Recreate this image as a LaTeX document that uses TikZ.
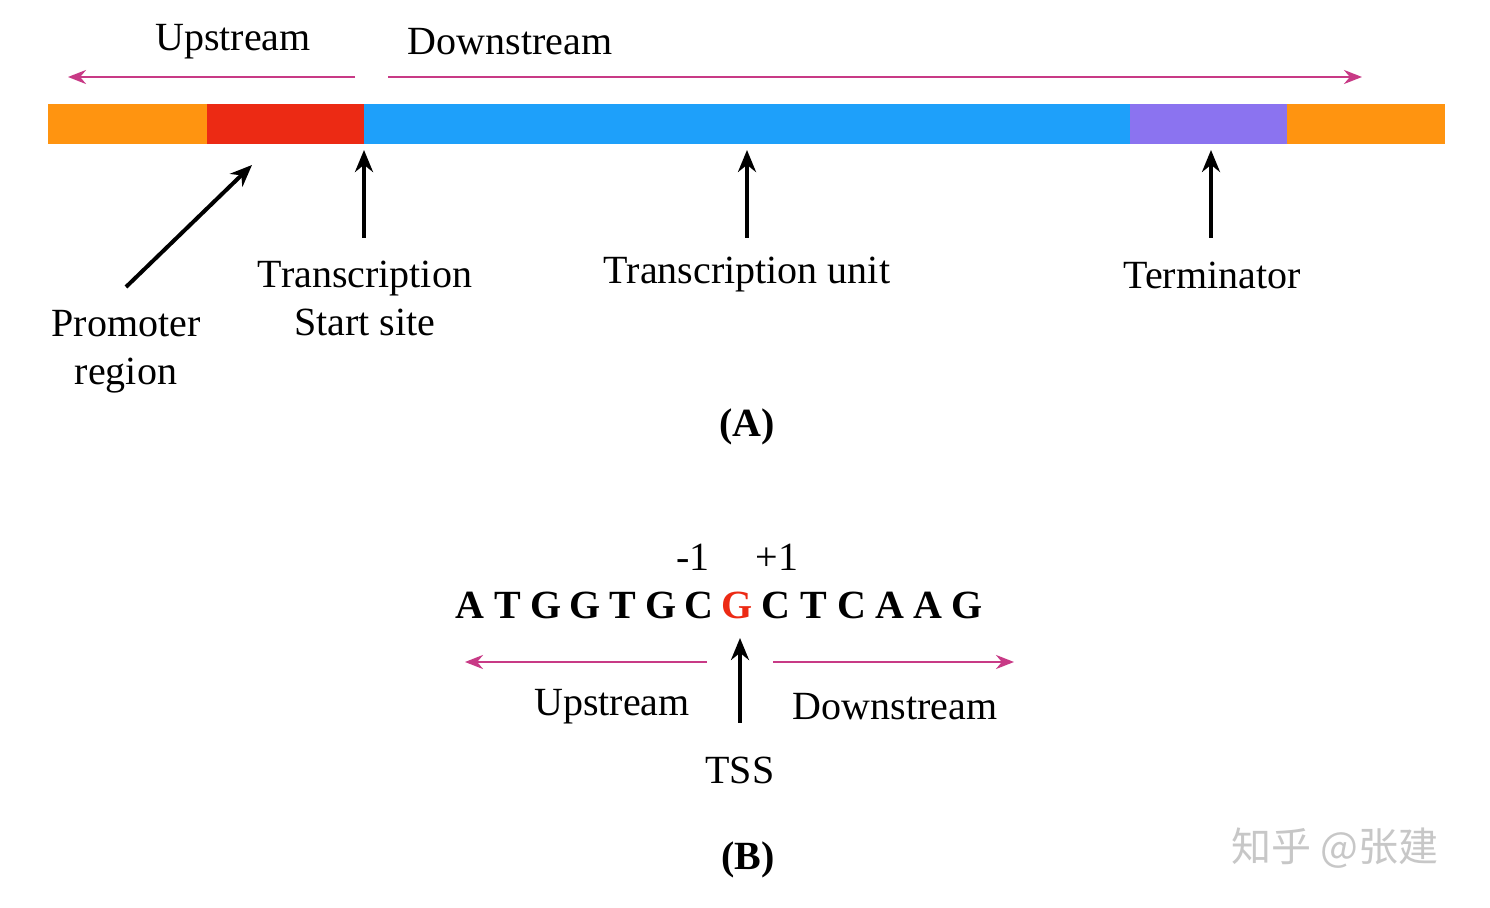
\documentclass[tikz,border=0pt]{standalone}
\usepackage{fontspec}
\setmainfont{Liberation Serif}
\newfontfamily\cjk{Noto Sans CJK SC}
\begin{document}
\begin{tikzpicture}[x=0.5pt,y=-0.5pt,
  lbl/.style={font=\fontsize{20}{22}\selectfont, inner sep=0},
  pk/.style={draw=pinkc, line width=1.3pt, -{Stealth[length=9pt,width=7pt]}},
  bk/.style={draw=black, line width=2pt, -{Stealth[length=11pt,width=9pt]}},
  seq/.style={font=\fontsize{20}{22}\selectfont\bfseries, inner sep=0}]
\usetikzlibrary{arrows.meta}
\definecolor{pinkc}{HTML}{C83A86}
\definecolor{orng}{HTML}{FF9410}
\definecolor{redc}{HTML}{EC2A14}
\definecolor{bluec}{HTML}{1EA0FA}
\definecolor{purp}{HTML}{8B73F0}
\useasboundingbox (0,0) rectangle (1490,908);
\fill[white] (0,0) rectangle (1490,908);
\fill[orng] (48,104) rectangle (207,144);
\fill[redc] (207,104) rectangle (364,144);
\fill[bluec] (364,104) rectangle (1130,144);
\fill[purp] (1130,104) rectangle (1287,144);
\fill[orng] (1287,104) rectangle (1445,144);
\coordinate (ul1) at (355,77); \coordinate (ul2) at (68,77);
\coordinate (dr1) at (388,77); \coordinate (dr2) at (1362,77);
\draw[pk] (ul1) -- (ul2);
\draw[pk] (dr1) -- (dr2);
\node[lbl] (up) at (233,42) {Upstream};
\node[lbl] (dn) at (510,42) {Downstream};
\coordinate (p1) at (126,287); \coordinate (p2) at (252,165);
\coordinate (t1) at (364,238); \coordinate (t2) at (364,150);
\coordinate (u1) at (747,238); \coordinate (u2) at (747,150);
\coordinate (e1) at (1211,238); \coordinate (e2) at (1211,150);
\draw[bk] (p1) -- (p2);
\draw[bk] (t1) -- (t2);
\draw[bk] (u1) -- (u2);
\draw[bk] (e1) -- (e2);
\node[lbl, align=center] (tss) at (365,298) {Transcription\\[2pt]Start site};
\node[lbl] (tu) at (747,275) {Transcription unit};
\node[lbl] (tm) at (1212,275) {Terminator};
\node[lbl, align=center] (pr) at (126,352) {Promoter\\[2pt]region};
\node[lbl, font=\fontsize{20}{22}\selectfont\bfseries] (A) at (747,427) {(A)};
\node[lbl] (m1) at (693,557) {-1};
\node[lbl] (p1l) at (777,557) {+1};
\foreach \c [count=\i from 0] in {A,T,G,G,T,G,C,G,C,T,C,A,A,G}{
  \ifnum\i=7
    \node[seq, text=redc] (s\i) at (470+\i*38.2,605) {\c};
  \else
    \node[seq] (s\i) at (470+\i*38.2,605) {\c};
  \fi}
\coordinate (bl1) at (707,662); \coordinate (bl2) at (465,662);
\coordinate (br1) at (773,662); \coordinate (br2) at (1014,662);
\draw[pk] (bl1) -- (bl2);
\draw[pk] (br1) -- (br2);
\coordinate (b1) at (740,723); \coordinate (b2) at (740,638);
\draw[bk] (b1) -- (b2);
\node[lbl] (up2) at (612,707) {Upstream};
\node[lbl] (dn2) at (895,707) {Downstream};
\node[lbl] (tssl) at (740,770) {TSS};
\node[lbl, font=\fontsize{20}{22}\selectfont\bfseries] (B) at (748,860) {(B)};
\node[inner sep=0, text=black!22, font=\cjk\fontsize{20}{22}\selectfont] (wm) at (1335,848) {知乎 @张建};
\end{tikzpicture}
\end{document}
